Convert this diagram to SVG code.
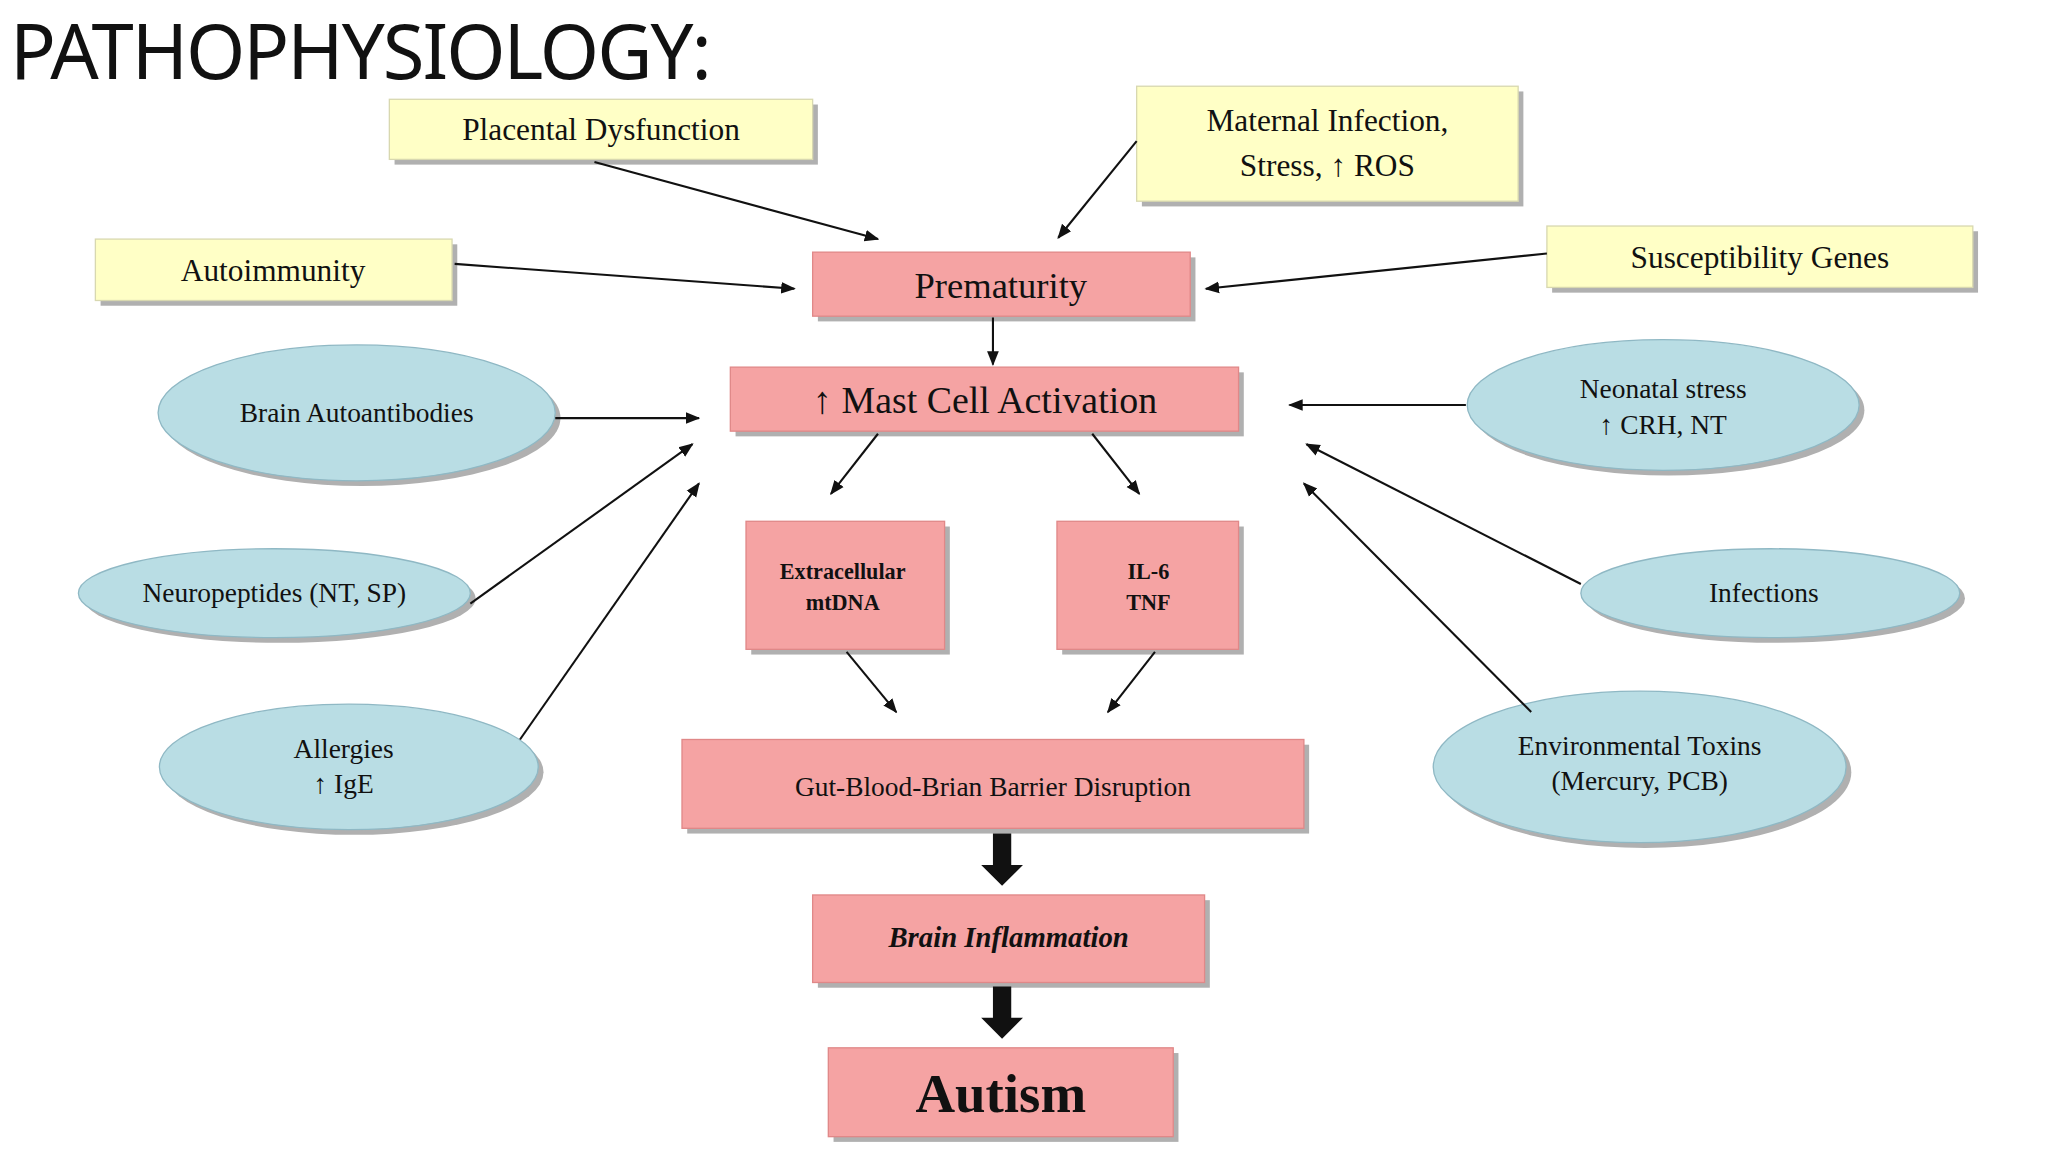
<svg xmlns="http://www.w3.org/2000/svg" width="2048" height="1152" viewBox="0 0 2048 1152">
<defs>
<style>
.y{fill:#ffffc6;stroke:#d8d8b0;stroke-width:1}
.p{fill:#f5a3a3;stroke:#e08888;stroke-width:1}
.e{fill:#b9dde4;stroke:#8fb8c4;stroke-width:1}
.sh{fill:#b0b0b0}
text{font-family:"Liberation Serif",serif;fill:#111;text-anchor:middle}
.c line{stroke:#111;stroke-width:1.6;marker-end:url(#a)}
</style>
<marker id="a" viewBox="0 0 10 10" refX="9" refY="5" markerWidth="7" markerHeight="7" orient="auto"><path d="M0,1 L10,5 L0,9 Z" fill="#111"/></marker>
</defs>
<rect width="2048" height="1152" fill="#fff"/>
<text x="10" y="79" style="font-family:'Noto Sans',sans-serif;font-size:76px;text-anchor:start;letter-spacing:-2px">PATHOPHYSIOLOGY:</text>
<g transform="scale(1.3065)">
<g id="placental"><rect class="sh" x="302" y="80" width="324" height="46"/><rect class="y" x="298" y="76" width="324" height="46"/><text x="460" y="107" font-size="24">Placental Dysfunction</text></g>
<g id="maternal"><rect class="sh" x="874" y="70" width="292" height="88"/><rect class="y" x="870" y="66" width="292" height="88"/><text x="1016" y="100" font-size="24">Maternal Infection,</text><text x="1016" y="135" font-size="24">Stress, ↑ ROS</text></g>
<g id="autoimmunity"><rect class="sh" x="77" y="187" width="273" height="47"/><rect class="y" x="73" y="183" width="273" height="47"/><text x="209" y="215" font-size="24">Autoimmunity</text></g>
<g id="genes"><rect class="sh" x="1188" y="177" width="326" height="47"/><rect class="y" x="1184" y="173" width="326" height="47"/><text x="1347" y="205" font-size="24">Susceptibility Genes</text></g>
<g id="prematurity"><rect class="sh" x="626" y="197" width="289" height="49"/><rect class="p" x="622" y="193" width="289" height="49"/><text x="766" y="228" font-size="28">Prematurity</text></g>
<g id="mast"><rect class="sh" x="563" y="285" width="389" height="49"/><rect class="p" x="559" y="281" width="389" height="49"/><text x="754" y="316" font-size="29">↑ Mast Cell Activation</text></g>
<g id="mtdna"><rect class="sh" x="575" y="403" width="152" height="98"/><rect class="p" x="571" y="399" width="152" height="98"/><text x="645" y="443" font-size="17" font-weight="bold">Extracellular</text><text x="645" y="467" font-size="17" font-weight="bold">mtDNA</text></g>
<g id="il6"><rect class="sh" x="813" y="403" width="139" height="98"/><rect class="p" x="809" y="399" width="139" height="98"/><text x="879" y="443" font-size="17" font-weight="bold">IL-6</text><text x="879" y="467" font-size="17" font-weight="bold">TNF</text></g>
<g id="gut"><rect class="sh" x="526" y="570" width="476" height="68"/><rect class="p" x="522" y="566" width="476" height="68"/><text x="760" y="609" font-size="21">Gut-Blood-Brian Barrier Disruption</text></g>
<g id="inflammation"><rect class="sh" x="626" y="689" width="300" height="67"/><rect class="p" x="622" y="685" width="300" height="67"/><text x="772" y="725" font-size="22" font-weight="bold" font-style="italic">Brain Inflammation</text></g>
<g id="autism"><rect class="sh" x="638" y="806" width="264" height="68"/><rect class="p" x="634" y="802" width="264" height="68"/><text x="766" y="851" font-size="42" font-weight="bold">Autism</text></g>
<g id="brainauto"><ellipse class="sh" cx="277" cy="320" rx="152" ry="52"/><ellipse class="e" cx="273" cy="316" rx="152" ry="52"/><text x="273" y="323" font-size="21">Brain Autoantibodies</text></g>
<g id="neuropeptides"><ellipse class="sh" cx="214" cy="458" rx="150" ry="34"/><ellipse class="e" cx="210" cy="454" rx="150" ry="34"/><text x="210" y="461" font-size="21">Neuropeptides (NT, SP)</text></g>
<g id="allergies"><ellipse class="sh" cx="271" cy="591" rx="145" ry="48"/><ellipse class="e" cx="267" cy="587" rx="145" ry="48"/><text x="263" y="580" font-size="21">Allergies</text><text x="263" y="607" font-size="21">↑ IgE</text></g>
<g id="neonatal"><ellipse class="sh" cx="1277" cy="314" rx="150" ry="50"/><ellipse class="e" cx="1273" cy="310" rx="150" ry="50"/><text x="1273" y="305" font-size="21">Neonatal stress</text><text x="1273" y="332" font-size="21">↑ CRH, NT</text></g>
<g id="infections"><ellipse class="sh" cx="1359" cy="458" rx="145" ry="34"/><ellipse class="e" cx="1355" cy="454" rx="145" ry="34"/><text x="1350" y="461" font-size="21">Infections</text></g>
<g id="toxins"><ellipse class="sh" cx="1259" cy="591" rx="158" ry="58"/><ellipse class="e" cx="1255" cy="587" rx="158" ry="58"/><text x="1255" y="578" font-size="21">Environmental Toxins</text><text x="1255" y="605" font-size="21">(Mercury, PCB)</text></g>
<g class="c" id="connectors">
<line x1="455" y1="124" x2="672" y2="183"/>
<line x1="870" y1="108" x2="810" y2="182"/>
<line x1="348" y1="202" x2="608" y2="221"/>
<line x1="1184" y1="194" x2="923" y2="221"/>
<line x1="760" y1="243" x2="760" y2="279"/>
<line x1="425" y1="320" x2="535" y2="320"/>
<line x1="360" y1="462" x2="530" y2="340"/>
<line x1="398" y1="566" x2="535" y2="370"/>
<line x1="1122" y1="310" x2="987" y2="310"/>
<line x1="1210" y1="447" x2="1000" y2="340"/>
<line x1="1172" y1="545" x2="998" y2="370"/>
<line x1="672" y1="332" x2="636" y2="378"/>
<line x1="836" y1="332" x2="872" y2="378"/>
<line x1="648" y1="499" x2="686" y2="545"/>
<line x1="884" y1="499" x2="848" y2="545"/>
<path d="M760,638 h14 v24 h9 l-16,16 l-16,-16 h9 Z" fill="#111"/>
<path d="M760,755 h14 v24 h9 l-16,16 l-16,-16 h9 Z" fill="#111"/>
</g>
</g>
</svg>
